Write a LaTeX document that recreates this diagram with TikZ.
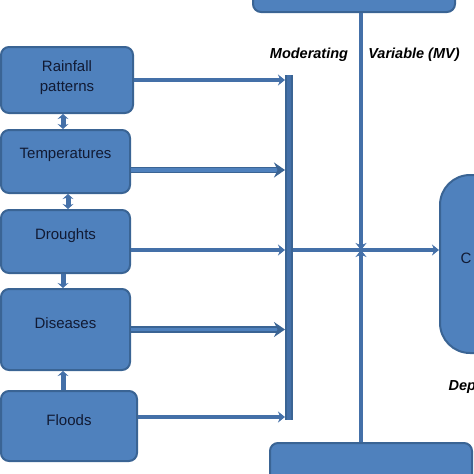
\documentclass[tikz,border=0pt]{standalone}
\usepackage{fontspec}
\setmainfont{Liberation Sans}
\usetikzlibrary{arrows.meta,calc}

\definecolor{boxblue}{HTML}{4F81BD}
\definecolor{boxline}{HTML}{3A6494}
\definecolor{linkblue}{HTML}{4470A8}
\definecolor{textnavy}{HTML}{111A33}

\begin{document}
\begin{tikzpicture}[
    x=1pt, y=-1pt,
    box/.style={rectangle, draw=boxline, fill=boxblue, line width=2pt, rounded corners=8pt, inner sep=0pt},
    boxtext/.style={font=\fontsize{15}{20}\selectfont, text=textnavy, align=center},
    headtext/.style={font=\fontsize{14.5}{17}\selectfont\bfseries\itshape, text=black},
    link/.style={draw=linkblue, line width=4pt, -{Stealth[length=7pt, width=11pt]}},
    fatlink/.style={draw=boxline, double=boxblue, line width=1.5pt, double distance=3.5pt, -{Stealth[length=11pt, width=15pt]}},
    tie/.style={draw=linkblue, line width=5pt, {Stealth[length=5pt, width=11pt]}-{Stealth[length=5pt, width=11pt]}},
    tieone/.style={draw=linkblue, line width=5pt, -{Stealth[length=5pt, width=11pt]}},
    bar/.style={draw=boxline, double=linkblue, line width=2pt, double distance=4pt}
]
\useasboundingbox (0,0) rectangle (474,474);
\clip (0,0) rectangle (474,474);

% independent variables
\node[box, minimum width=132, minimum height=66, label={[boxtext, yshift=2pt]center:Rainfall\\patterns}] (rain) at (67,80) {};
\node[box, minimum width=129, minimum height=63, label={[boxtext, yshift=6.5pt]center:Temperatures}] (temp) at (65.5,161.5) {};
\node[box, minimum width=129, minimum height=63, label={[boxtext, yshift=5.5pt]center:Droughts}] (drought) at (65.5,241.5) {};
\node[box, minimum width=129, minimum height=81, label={[boxtext, yshift=6.5pt]center:Diseases}] (disease) at (65.5,329.5) {};
\node[box, minimum width=136, minimum height=70, label={[boxtext, yshift=6pt]center:Floods}] (floods) at (69,426) {};

% moderating and dependent boxes
\node[box, minimum width=202, minimum height=44] (mv) at (354,-10) {};
\node[box, minimum width=202, minimum height=54] (base) at (371,470) {};
\node[box, rounded corners=30pt, minimum width=80, minimum height=178] (dv) at (480,264) {};
\node[boxtext, anchor=west] (dvtext) at (457,258) {C};

% labels
\node[headtext] (modlabel) at (309,55) {Moderating};
\node[headtext] (varlabel) at (414,55) {Variable (MV)};
\node[headtext, anchor=west] (deplabel) at (445,387) {Dep};

% helper points
\coordinate (stem) at (63,0);
\coordinate (stemb) at (68,0);
\coordinate (bartop) at (289,75);
\coordinate (barbot) at (289,420);
\coordinate (barL) at (285,0);
\coordinate (barR) at (293,0);
\coordinate (cross) at (361,250);

% links between the boxes
\draw[tie] (rain.south -| stem) -- (temp.north -| stem);
\draw[tie] (temp.south -| stemb) -- (drought.north -| stemb);
\draw[tieone] (drought.south -| stem) -- (disease.north -| stem);
\draw[tieone] (floods.north -| stem) -- (disease.south -| stem);

% collecting bar
\draw[bar] (bartop) -- (barbot);
\draw[link] (rain.east) -- (rain.east -| barL);
\draw[fatlink] ($(temp.east)+(0,8.5)$) -- ($(temp.east -| barL)+(0,8.5)$);
\draw[link] (drought.east |- cross) -- (barL |- cross);
\draw[fatlink] (disease.east) -- (disease.east -| barL);
\draw[link] ($(floods.east)+(0,-9)$) -- ($(floods.east -| barL)+(0,-9)$);

% moderating line and output
\draw[link] (mv.south -| cross) -- (cross);
\draw[link] (base.north -| cross) -- (cross);
\draw[link] (barR |- cross) -- (dv.west |- cross);

\end{tikzpicture}
\end{document}
